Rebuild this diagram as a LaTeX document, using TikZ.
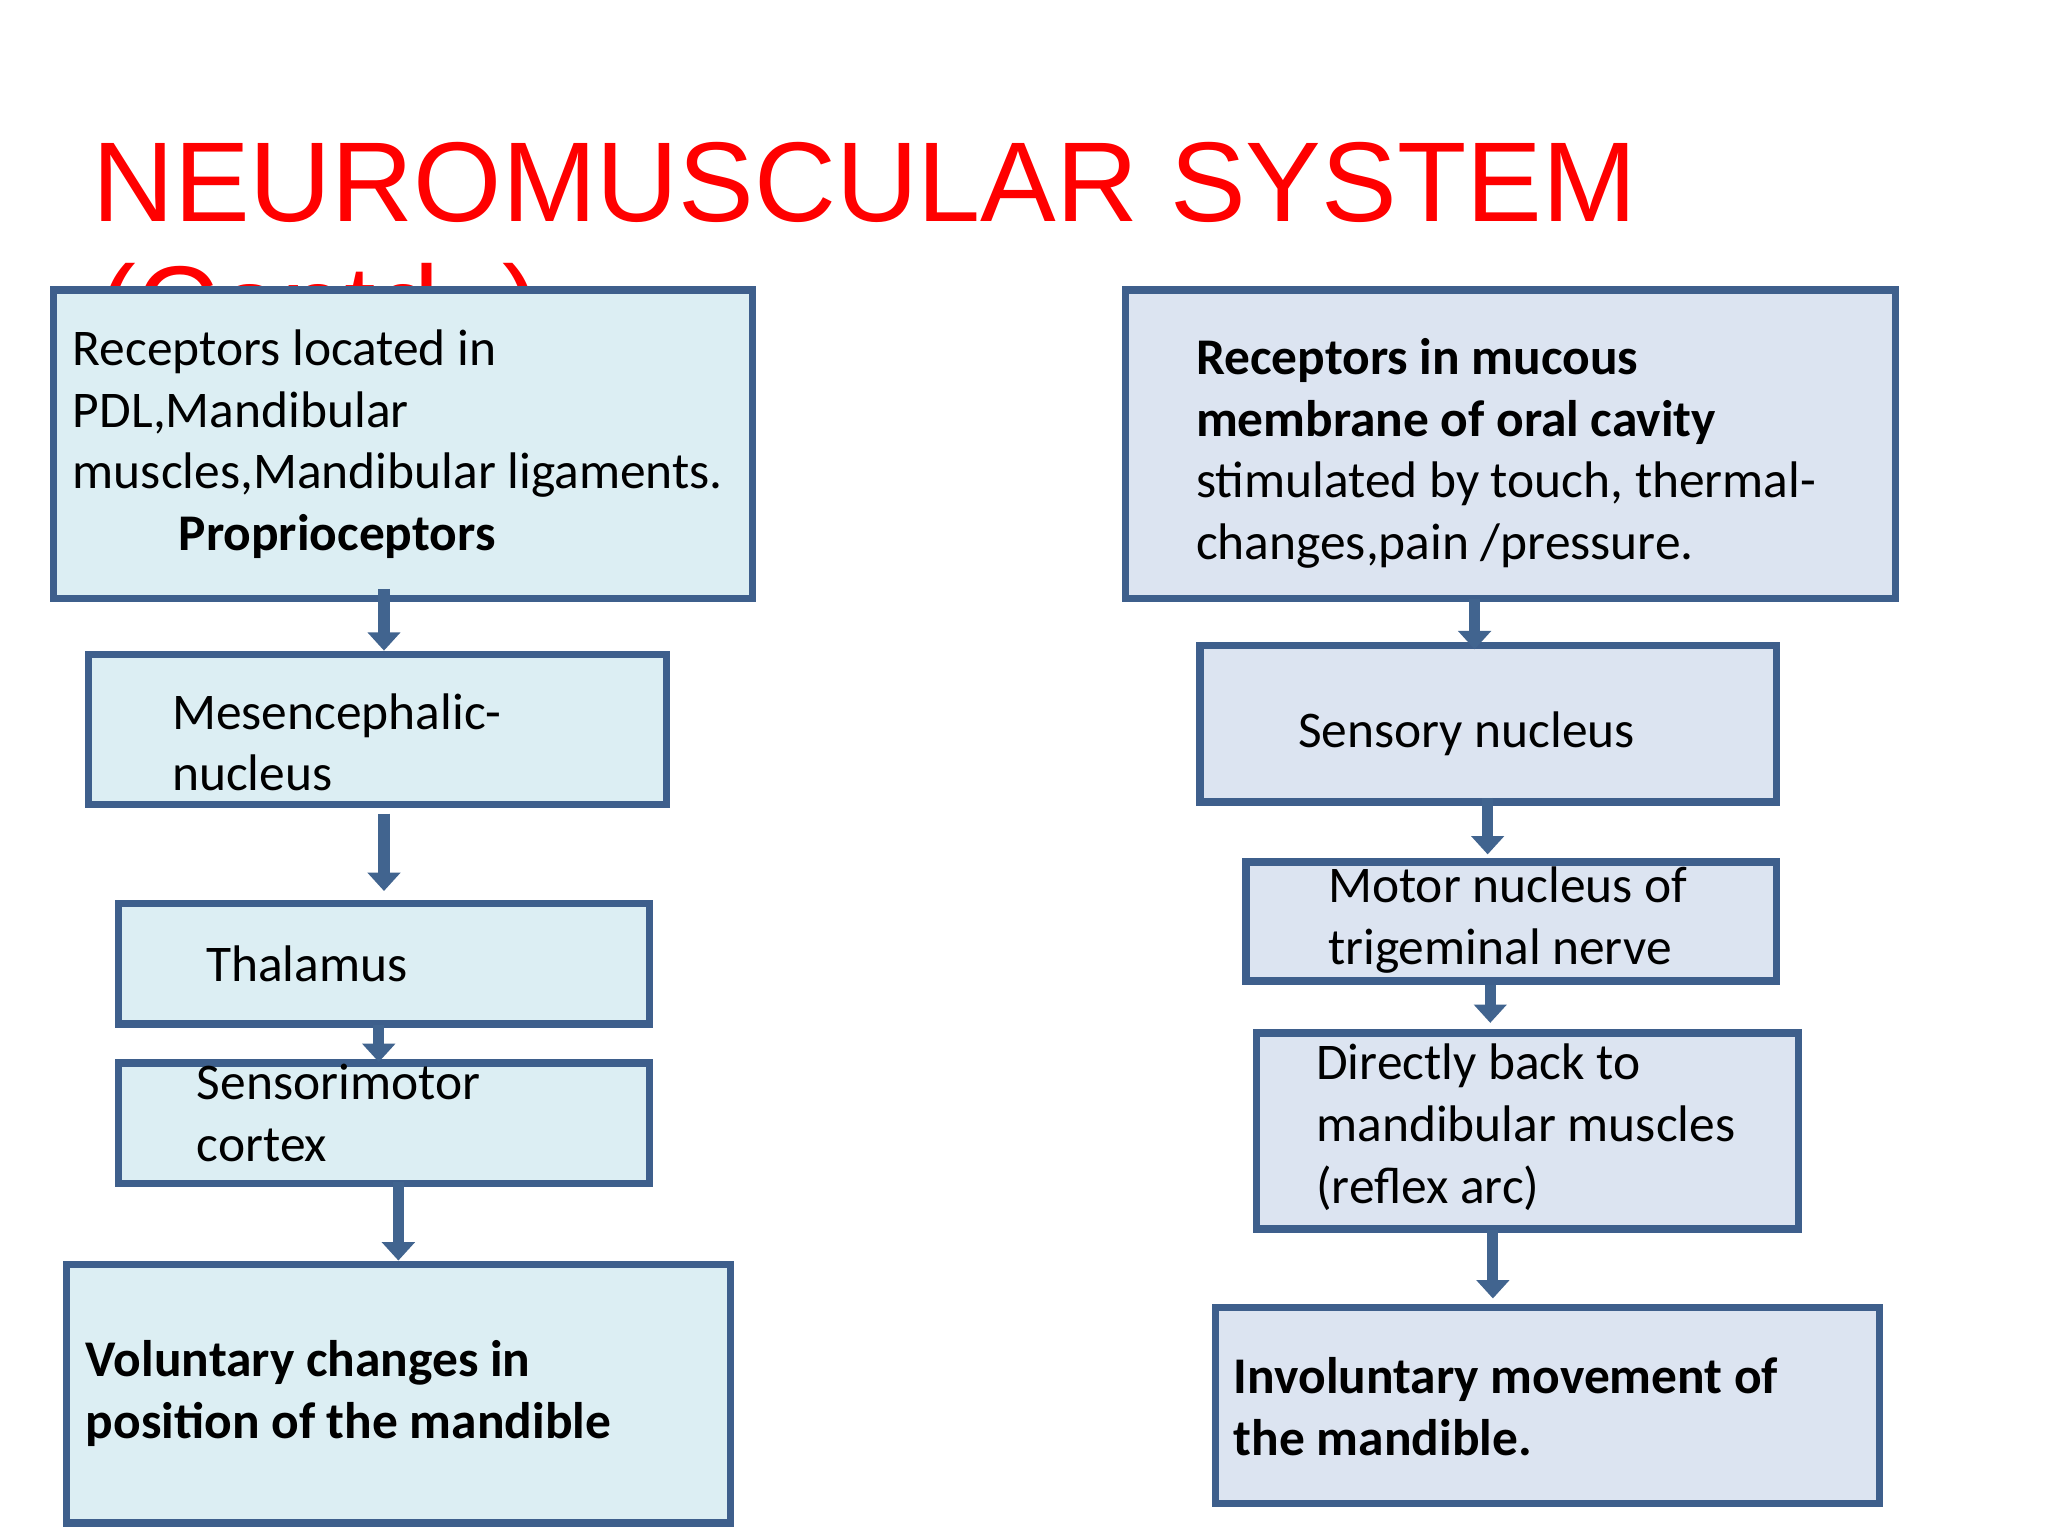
\documentclass[tikz,border=0pt]{standalone}
\usepackage{fontspec}
\setmainfont{Carlito}
\newfontfamily\titlefont{Liberation Sans}
\usetikzlibrary{arrows.meta}
\usetikzlibrary{positioning}
\definecolor{edgeblue}{HTML}{3E5F8C}
\definecolor{leftfill}{HTML}{DCEEF3}
\definecolor{rightfill}{HTML}{DCE4F1}
\definecolor{arrowblue}{HTML}{41648F}
\tikzset{
	lbox/.style={draw=edgeblue, line width=1.6pt, fill=leftfill, inner sep=0pt},
	rbox/.style={draw=edgeblue, line width=1.6pt, fill=rightfill, inner sep=0pt},
	txt/.style={anchor=west, align=left, inner sep=0pt, font=\fontsize{11.2}{13.4}\selectfont},
	flow/.style={arrowblue, line width=2.4pt, -{Triangle[width=7pt,length=4pt]}}
}
\begin{document}
\begin{tikzpicture}[x=0.01cm, y=-0.01cm]

	% page
	\useasboundingbox (0,0) rectangle (1568,1176);
	\fill[white] (0,0) rectangle (1568,1176);

	% title
	\node[anchor=west, inner sep=0pt, red, font=\titlefont\fontsize{24.7}{30}\selectfont] (title) at (70,140) {NEUROMUSCULAR SYSTEM};
	\node[anchor=west, inner sep=0pt, red, font=\titlefont\fontsize{24.7}{30}\selectfont] (contd) at (75,242) {(Contd..)};

	% left column boxes
	\node[lbox, minimum width=5.35cm, minimum height=2.36cm] (L1) at (308.5,340) {};
	\node[lbox, minimum width=4.42cm, minimum height=1.15cm] (L2) at (289,558.5) {};
	\node[lbox, minimum width=4.06cm, minimum height=0.92cm] (L3) at (294,738) {};
	\node[lbox, minimum width=4.06cm, minimum height=0.92cm] (L4) at (294,860) {};
	\node[lbox, minimum width=5.08cm, minimum height=1.98cm] (L5) at (305,1067) {};

	% right column boxes
	\node[rbox, minimum width=5.89cm, minimum height=2.36cm] (R1) at (1156.5,340) {};
	\node[rbox, minimum width=4.41cm, minimum height=1.20cm] (R2) at (1139.5,554) {};
	\node[rbox, minimum width=4.06cm, minimum height=0.91cm] (R3) at (1157,705.5) {};
	\node[rbox, minimum width=4.15cm, minimum height=1.50cm] (R4) at (1169.5,866) {};
	\node[rbox, minimum width=5.08cm, minimum height=1.50cm] (R5) at (1185,1076) {};

	% texts
	\node[txt] at ([xshift=0.17cm]L1.west) {Receptors located in\\PDL,Mandibular\\muscles,Mandibular ligaments.\\\hspace{0.81cm}\textbf{Proprioceptors}};
	\node[txt] at ([xshift=0.66cm,yshift=-0.1cm]L2.west) {Mesencephalic-\\nucleus};
	\node[txt] at ([xshift=0.69cm]L3.west) {Thalamus};
	\node[txt] at ([xshift=0.62cm,yshift=0.08cm]L4.west) {Sensorimotor\\cortex};
	\node[txt] at ([xshift=0.17cm]L5.west) {\textbf{Voluntary changes in}\\\textbf{position of the mandible}};

	\node[txt] at ([xshift=0.56cm,yshift=-0.07cm]R1.west) {\textbf{Receptors in mucous}\\\textbf{membrane of oral cavity}\\stimulated by touch, thermal-\\changes,pain /pressure.};
	\node[txt] at ([xshift=0.77cm,yshift=-0.08cm]R2.west) {Sensory nucleus};
	\node[txt] at ([xshift=0.65cm,yshift=0.01cm]R3.west) {Motor nucleus of\\trigeminal nerve};
	\node[txt] at ([xshift=0.48cm,yshift=0.03cm]R4.west) {Directly back to\\mandibular muscles\\(reflex arc)};
	\node[txt] at ([xshift=0.16cm,yshift=-0.01cm]R5.west) {\textbf{Involuntary movement of}\\\textbf{the mandible.}};

	% arrow columns
	\coordinate (a1) at (294,0);
	\coordinate (a2) at (294,0);
	\coordinate (a3) at (290,0);
	\coordinate (a4) at (305,0);
	\coordinate (b1) at (1129,0);
	\coordinate (b2) at (1139,0);
	\coordinate (b3) at (1141,0);
	\coordinate (b4) at (1143,0);

	% arrows
	\draw[flow] ([yshift=0.1cm]L1.south -| a1) -- (L2.north -| a1);
	\draw[flow] ([yshift=-0.04cm]L2.south -| a2) -- ([yshift=0.07cm]L3.north -| a2);
	\draw[flow] ([yshift=0.02cm]L3.south -| a3) -- ([yshift=-0.02cm]L4.north -| a3);
	\draw[flow] ([yshift=0.04cm]L4.south -| a4) -- (L5.north -| a4);
	\draw[flow] ([yshift=0.02cm]R1.south -| b1) -- ([yshift=-0.06cm]R2.north -| b1);
	\draw[flow] ([yshift=0.06cm]R2.south -| b2) -- ([yshift=0.03cm]R3.north -| b2);
	\draw[flow] (R3.south -| b3) -- ([yshift=0.05cm]R4.north -| b3);
	\draw[flow] ([yshift=0.02cm]R4.south -| b4) -- ([yshift=0.04cm]R5.north -| b4);

\end{tikzpicture}
\end{document}
